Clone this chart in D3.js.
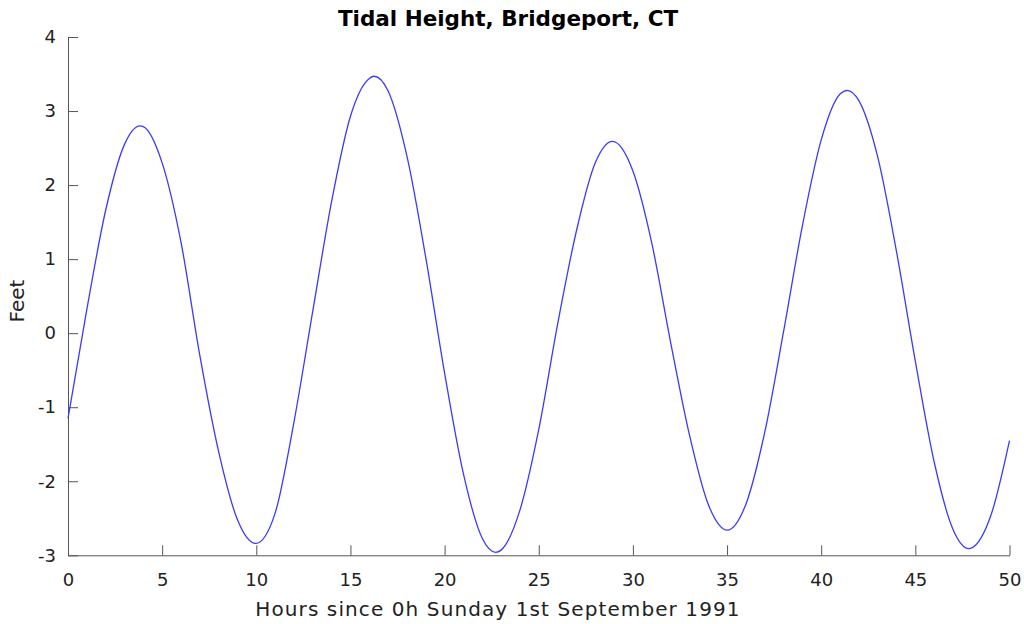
<!DOCTYPE html>
<meta charset="utf-8">
<script src="https://d3js.org/d3.v7.min.js"></script>
<style>
body { margin: 0; background: #fff; }
svg { display: block; font-family: "DejaVu Sans", sans-serif; }
.axis path, .axis line { stroke: #555; }
</style>
<body>
</body>
<script>

// hours since 0h Sun 1 Sep 1991
var hours = [0,1,2,3,3.82,4,5,6,7,8,9,9.97,11,12,13,14,15,16,16.27,17,18,19,20,21,22,22.71,
  23,24,25,26,27,28,28.92,30,31,32,33,34,35.01,36,37,38,39,40,41,41.39,42,43,44,45,46,47,47.85,48,49,50];
var feet = [-1.15,0.32,1.66,2.55,2.80,2.79,2.30,1.23,-0.30,-1.60,-2.52,-2.84,-2.43,-1.20,0.30,1.78,2.93,3.44,3.47,3.27,2.39,1.02,-0.54,-1.90,-2.77,-2.96,
  -2.93,-2.39,-1.30,0.12,1.38,2.30,2.59,2.19,1.22,-0.12,-1.37,-2.31,-2.66,-2.31,-1.34,0.02,1.45,2.61,3.23,3.28,3.14,2.38,1.10,-0.38,-1.74,-2.65,-2.91,-2.90,-2.47,-1.45];

var xTicks = [0,5,10,15,20,25,30,35,40,45,50];
var yTicks = [-3,-2,-1,0,1,2,3,4];

var data = hours.map(function(h, i) { return {h: h, v: feet[i]}; });

var margin = {top: 37, right: 15, bottom: 69, left: 68};
var width = 1024 - margin.left - margin.right,
    height = 624 - margin.top - margin.bottom;

var svg = d3.select("body").append("svg")
    .attr("width", 1024)
    .attr("height", 624);

var g = svg.append("g")
    .attr("transform", "translate(" + margin.left + "," + margin.top + ")");

var x = d3.scaleLinear().domain([0, 50]).range([0, 941.5]);
var y = d3.scaleLinear().domain([-3, 4]).range([height + 0.3, 0]);

// plain hyphen minus like the original, ticks point inwards
var fmt = function(d) { return String(d); };
var xAxis = d3.axisBottom(x).tickValues(xTicks).tickFormat(fmt).tickSize(-10).tickSizeOuter(0).tickPadding(18);
var yAxis = d3.axisLeft(y).tickValues(yTicks).tickFormat(fmt).tickSize(-10).tickSizeOuter(0).tickPadding(12);

g.append("g")
  .attr("class", "x axis")
  .attr("transform", "translate(0," + y(-3) + ")")
  .call(xAxis)
  .selectAll("text")
    .attr("font-family", "DejaVu Sans")
    .attr("font-size", "18px")
    .attr("fill", "#222");

g.append("g")
  .attr("class", "y axis")
  .call(yAxis)
  .selectAll("text")
    .attr("font-family", "DejaVu Sans")
    .attr("font-size", "18px")
    .attr("fill", "#222");

var line = d3.line()
  .x(function(d) { return x(d.h); })
  .y(function(d) { return y(d.v); })
  .curve(d3.curveMonotoneX);

g.append("path")
  .datum(data)
  .attr("fill", "none")
  .attr("stroke", "#3a3aff")
  .attr("stroke-width", 1.3)
  .attr("d", line);

svg.append("text")
  .attr("x", 508)
  .attr("y", 26)
  .attr("text-anchor", "middle")
  .attr("font-weight", "bold")
  .attr("font-size", "21.5px")
  .attr("fill", "#000")
  .text("Tidal Height, Bridgeport, CT");

svg.append("text")
  .attr("x", 498)
  .attr("y", 616)
  .attr("text-anchor", "middle")
  .attr("font-size", "20px")
  .attr("letter-spacing", "1.1px")
  .attr("fill", "#222")
  .text("Hours since 0h Sunday 1st September 1991");

svg.append("text")
  .attr("transform", "translate(24,301) rotate(-90)")
  .attr("text-anchor", "middle")
  .attr("font-size", "20px")
  .attr("fill", "#222")
  .text("Feet");

</script>
